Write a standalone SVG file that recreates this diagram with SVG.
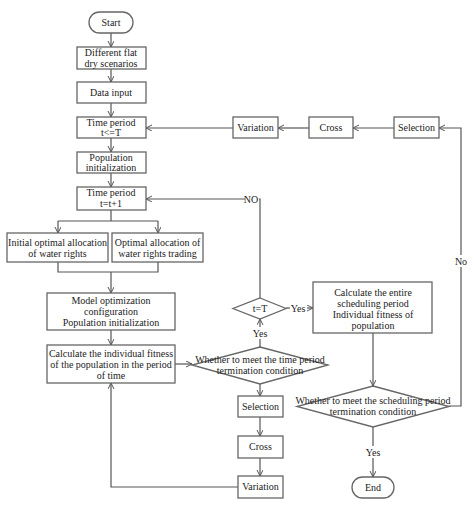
<svg xmlns="http://www.w3.org/2000/svg" width="474" height="508" viewBox="0 0 474 508">
<defs>
<marker id="arr" markerWidth="7" markerHeight="7" refX="6" refY="3" orient="auto" markerUnits="userSpaceOnUse">
<path d="M0,0 L6,3 L0,6" fill="none" stroke="#555" stroke-width="1"/>
</marker>
<style>
.box{fill:#fff;stroke:#666;stroke-width:1.3}
.ln{fill:none;stroke:#555;stroke-width:1.2}
text{font-family:"Liberation Serif","Times New Roman",serif;font-size:10px;fill:#222;text-anchor:middle}
.lbl{fill:#fff;stroke:none}
</style>
</defs>
<rect width="474" height="508" fill="#fff"/>
<g id="connectors">
<path class="ln" d="M111,33 V47" marker-end="url(#arr)"/>
<path class="ln" d="M111,69 V82" marker-end="url(#arr)"/>
<path class="ln" d="M111,103 V117" marker-end="url(#arr)"/>
<path class="ln" d="M111,138 V152" marker-end="url(#arr)"/>
<path class="ln" d="M111,173 V187" marker-end="url(#arr)"/>
<path class="ln" d="M111,210 V221 M58,221 H158"/>
<path class="ln" d="M58,221 V233" marker-end="url(#arr)"/>
<path class="ln" d="M158,221 V233" marker-end="url(#arr)"/>
<path class="ln" d="M58,262 V272 H158 V262"/>
<path class="ln" d="M111,272 V293" marker-end="url(#arr)"/>
<path class="ln" d="M111,330 V345" marker-end="url(#arr)"/>
<path class="ln" d="M175,364 H192" marker-end="url(#arr)"/>
<path class="ln" d="M260,347 V319" marker-end="url(#arr)"/>
<path class="ln" d="M286,308 H313" marker-end="url(#arr)"/>
<path class="ln" d="M260,298 V199 H146" marker-end="url(#arr)"/>
<path class="ln" d="M260,384 V396" marker-end="url(#arr)"/>
<path class="ln" d="M260,417 V436" marker-end="url(#arr)"/>
<path class="ln" d="M260,458 V476" marker-end="url(#arr)"/>
<path class="ln" d="M238,487 H111 V383" marker-end="url(#arr)"/>
<path class="ln" d="M373,333 V386" marker-end="url(#arr)"/>
<path class="ln" d="M449,406 H461 V128 H439" marker-end="url(#arr)"/>
<path class="ln" d="M394,128 H353" marker-end="url(#arr)"/>
<path class="ln" d="M309,128 H278" marker-end="url(#arr)"/>
<path class="ln" d="M233,128 H146" marker-end="url(#arr)"/>
<path class="ln" d="M373,427 V477" marker-end="url(#arr)"/>
<rect class="lbl" x="245" y="193" width="14" height="12"/>
<text x="251" y="203">NO</text>
<rect class="lbl" x="252" y="327" width="17" height="12"/>
<text x="260" y="337">Yes</text>
<rect class="lbl" x="290" y="302" width="17" height="12"/>
<text x="298" y="312">Yes</text>
<rect class="lbl" x="454" y="255" width="15" height="12"/>
<text x="461" y="265">No</text>
<rect class="lbl" x="364" y="446" width="18" height="12"/>
<text x="373" y="456">Yes</text>
</g>
<g id="start"><rect class="box" x="89" y="12" width="44" height="21" rx="10.5"/><text x="111" y="26">Start</text></g>
<g id="scenarios"><rect class="box" x="77" y="47" width="69" height="22"/><text x="111" y="55.5">Different flat</text><text x="111" y="66.5">dry scenarios</text></g>
<g id="data-input"><rect class="box" x="77" y="82" width="69" height="21"/><text x="111" y="96">Data input</text></g>
<g id="time-period-1"><rect class="box" x="77" y="117" width="69" height="21"/><text x="111" y="125.5">Time period</text><text x="111" y="136">t&lt;=T</text></g>
<g id="pop-init"><rect class="box" x="77" y="152" width="69" height="21"/><text x="111" y="160.5">Population</text><text x="111" y="171">initialization</text></g>
<g id="time-period-2"><rect class="box" x="77" y="187" width="69" height="23"/><text x="111" y="196">Time period</text><text x="111" y="207">t=t+1</text></g>
<g id="initial-alloc"><rect class="box" x="7" y="233" width="101" height="29"/><text x="57.5" y="245.5">Initial optimal allocation</text><text x="57.5" y="256.5">of water rights</text></g>
<g id="trading-alloc"><rect class="box" x="112" y="233" width="91" height="29"/><text x="157.5" y="245.5">Optimal allocation of</text><text x="157.5" y="256.5">water rights trading</text></g>
<g id="model-config"><rect class="box" x="47" y="293" width="128" height="37"/><text x="111" y="303.5">Model optimization</text><text x="111" y="314.5">configuration</text><text x="111" y="325.5">Population initialization</text></g>
<g id="fitness-period"><rect class="box" x="47" y="345" width="128" height="38"/><text x="111" y="356.5">Calculate the individual fitness</text><text x="111" y="367.5">of the population in the period</text><text x="111" y="379">of time</text></g>
<g id="variation-top"><rect class="box" x="233" y="117" width="45" height="21"/><text x="255.5" y="131">Variation</text></g>
<g id="cross-top"><rect class="box" x="309" y="117" width="44" height="21"/><text x="331" y="131">Cross</text></g>
<g id="selection-top"><rect class="box" x="394" y="117" width="45" height="21"/><text x="416.5" y="131">Selection</text></g>
<g id="t-eq-T"><polygon class="box" points="260,298 286,308.5 260,319 233,308.5"/><text x="260" y="312">t=T</text></g>
<g id="time-cond"><polygon class="box" points="260,347 328,365 260,384 192,365"/><text x="260" y="362.5">Whether to meet the time period</text><text x="260" y="374">termination condition</text></g>
<g id="selection"><rect class="box" x="238" y="396" width="45" height="21"/><text x="260.5" y="410">Selection</text></g>
<g id="cross"><rect class="box" x="238" y="436" width="45" height="22"/><text x="260.5" y="450">Cross</text></g>
<g id="variation"><rect class="box" x="238" y="476" width="45" height="22"/><text x="260.5" y="490">Variation</text></g>
<g id="schedule-fitness"><rect class="box" x="313" y="282" width="119" height="51"/><text x="373" y="295.5">Calculate the entire</text><text x="373" y="306.5">scheduling period</text><text x="373" y="317.5">Individual fitness of</text><text x="373" y="328.5">population</text></g>
<g id="schedule-cond"><polygon class="box" points="373,386 449,406.5 373,427 297,406.5"/><text x="373" y="404">Whether to meet the scheduling period</text><text x="373" y="415">termination condition</text></g>
<g id="end"><rect class="box" x="352" y="477" width="42" height="21" rx="10.5"/><text x="373" y="491">End</text></g>
</svg>
